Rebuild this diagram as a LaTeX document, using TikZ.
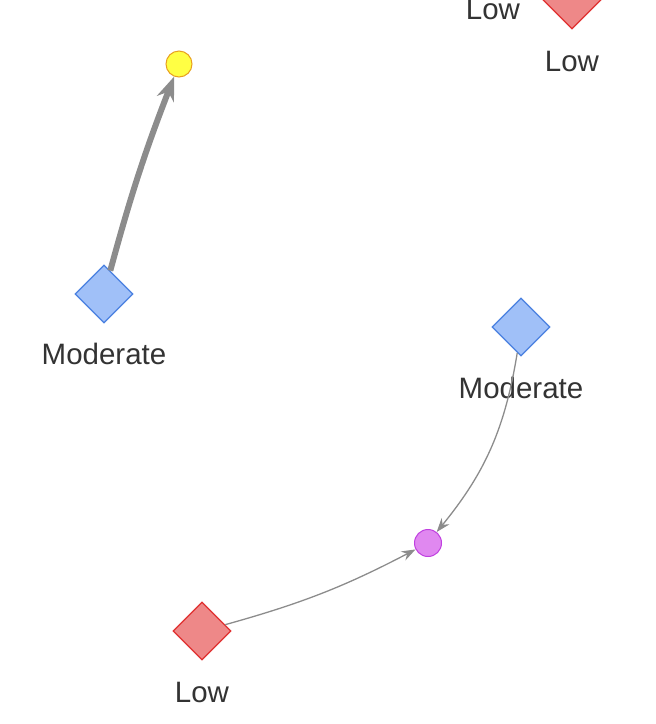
\documentclass[tikz,border=0pt]{standalone}
\usepackage{fontspec}
\setmainfont{Liberation Sans}
\usetikzlibrary{shapes.geometric,arrows.meta}
\definecolor{bf}{HTML}{A0C0F8}\definecolor{bd}{HTML}{4A80E0}
\definecolor{rf}{HTML}{EE8888}\definecolor{rd}{HTML}{E03030}
\definecolor{yf}{HTML}{FFFF44}\definecolor{yd}{HTML}{E8A020}
\definecolor{mf}{HTML}{E088F0}\definecolor{md}{HTML}{C040E0}
\definecolor{tx}{HTML}{333333}
\tikzset{
 dia/.style={diamond,minimum size=58pt,inner sep=0pt,line width=1.2pt},
 blue/.style={dia,fill=bf,draw=bd},
 red/.style={dia,fill=rf,draw=rd},
 lab/.style={font=\fontsize{29.5}{33}\selectfont,text=tx},
 edge/.style={draw=gray!90,-{Stealth[length=14pt,width=10pt]}},
}
\begin{document}
\begin{tikzpicture}[x=1pt,y=-1pt]
\path[use as bounding box] (0,0) rectangle (656,724);
\clip (0,0) rectangle (656,724);
\node[red] (r1) at (572,0) {};
\node[lab] (l1) at (572,61) {Low};
\node[lab] (l0) at (493,9) {Low};
\node[circle,minimum size=26pt,inner sep=0pt,fill=yf,draw=yd,line width=1pt] (y) at (179,64) {};
\node[blue] (m1) at (104,294) {};
\node[lab] (lm1) at (104,354) {Moderate};
\node[blue] (m2) at (521,327) {};
\node[lab] (lm2) at (521,388) {Moderate};
\node[circle,minimum size=27pt,inner sep=0pt,fill=mf,draw=md,line width=1pt] (m) at (428,543) {};
\node[red] (r2) at (202,631) {};
\node[lab] (l2) at (202,692) {Low};
\draw[edge,line width=6pt,-{Stealth[length=24pt,width=18pt]}] (m1) to[bend left=3] (y);
\draw[edge,line width=1.3pt] (m2) to[bend left=15] (m);
\draw[edge,line width=1.3pt] (r2) to[bend right=6] (m);
\end{tikzpicture}
\end{document}
